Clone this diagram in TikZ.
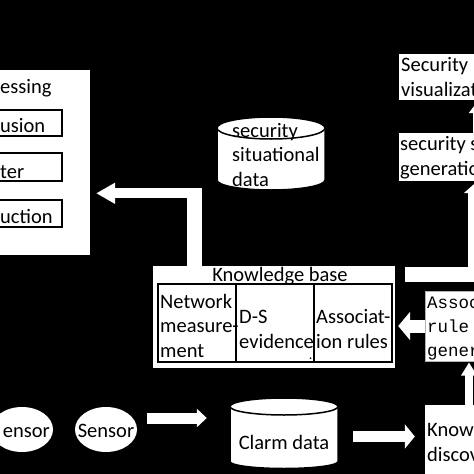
\documentclass[tikz,border=0pt]{standalone}
\usepackage{fontspec}
\setmainfont{Carlito}
\newfontfamily\simfont{Liberation Mono}
\usetikzlibrary{arrows.meta,shapes.geometric}
\tikzset{
  lbl/.style={inner sep=0pt, font=\fontsize{20.5}{24.5}\selectfont, align=left, text=black},
  monolbl/.style={inner sep=0pt, font=\simfont\fontsize{17.5}{24}\selectfont, align=left, text=black},
  wbox/.style={fill=white, draw=none, inner sep=0pt, rectangle},
  subbox/.style={fill=white, draw=black, line width=2pt, inner sep=0pt, rectangle},
  cell/.style={draw=black, line width=2pt, inner sep=0pt, rectangle},
  cyl/.style={fill=white, draw=black, line width=1.5pt},
  cylline/.style={draw=black, line width=1.5pt},
  sensor/.style={ellipse, fill=white, draw=none, minimum width=62pt, minimum height=45pt, inner sep=0pt},
  warrow/.style={draw=white, line cap=butt, line join=miter},
}
\begin{document}
\begin{tikzpicture}[x=1pt,y=-1pt]
\useasboundingbox (0,0) rectangle (474,474);
\fill[black] (0,0) rectangle (474,474);
\clip (0,0) rectangle (474,474);

% processing box
\node[wbox, minimum width=100pt, minimum height=185pt] (proc) at (40,162.5) {};
\node[lbl, anchor=base west] (proct) at (0,93) {essing};
\node[subbox, minimum width=67pt, minimum height=26pt] (fus) at (28.5,123) {};
\node[lbl, anchor=base west] (fust) at (0,132) {usion};
\node[subbox, minimum width=67pt, minimum height=28pt] (fil) at (28.5,167) {};
\node[lbl, anchor=base west] (filt) at (0,178) {ter};
\node[subbox, minimum width=67pt, minimum height=27pt] (red) at (28.5,213.5) {};
\node[lbl, anchor=base west] (redt) at (0,223) {uction};

% security situational data cylinder
\node[inner sep=0pt, minimum width=108pt, minimum height=73pt] (sdata) at (271,153.5) {};
\draw[cyl] (217,128) -- (217,180) .. controls (217,185.52) and (241.18,190) .. (271,190)
  .. controls (300.82,190) and (325,185.52) .. (325,180) -- (325,128)
  .. controls (325,121.92) and (300.82,117) .. (271,117)
  .. controls (241.18,117) and (217,121.92) .. cycle;
\node[lbl, anchor=base west] (sdatat) at (232,186) {security\\situational\\data};
\draw[cylline] (217,128) .. controls (217,134.08) and (241.18,139) .. (271,139)
  .. controls (300.82,139) and (325,134.08) .. (325,128);

% knowledge base
\node[wbox, minimum width=242pt, minimum height=102pt] (kb) at (274,317) {};
\node[lbl, anchor=base] (kbt) at (280,281) {Knowledge base};
\node[cell, minimum width=78pt, minimum height=78pt] (c1) at (197,323) {};
\node[cell, minimum width=78pt, minimum height=78pt] (c2) at (275,323) {};
\node[cell, minimum width=78pt, minimum height=78pt] (c3) at (353,323) {};
\node[lbl, anchor=base west] (c1t) at (160,357) {Network\\measure-\\ment};
\node[lbl, anchor=base west] (c2t) at (239,348) {D-S\\evidence};
\node[lbl, anchor=base west] (c3t) at (316,348) {Associat-\\ion rules};
\node[inner sep=0pt, font=\fontsize{14}{14}\selectfont, anchor=base] (dots) at (312.5,359) {..};

% right column
\node[wbox, minimum width=91pt, minimum height=46pt] (vis) at (444.5,77) {};
\node[lbl, anchor=base west] (vist) at (401,96) {Security\\visualizat};
\node[wbox, minimum width=91pt, minimum height=48pt] (gen) at (444.5,157) {};
\node[lbl, anchor=base west] (gent) at (400,175) {security s\\generatio};
\node[wbox, draw=gray!60, line width=1pt, minimum width=60pt, minimum height=70pt] (assoc) at (455,326) {};
\node[monolbl, anchor=base west] (assoct) at (427,356) {Assoc\\rule\\gener};
\node[wbox, minimum width=60pt, minimum height=75pt] (know) at (455,442.5) {};
\node[lbl, anchor=base west] (knowt) at (427,461) {Know\\discov};

% sensors
\node[sensor] (s1) at (22,429.5) {};
\node[lbl, anchor=base east] (s1t) at (50,437) {ensor};
\node[sensor] (s2) at (106,429.5) {};
\node[lbl, anchor=base] (s2t) at (106,437) {Sensor};

% clarm data cylinder
\node[inner sep=0pt, minimum width=108pt, minimum height=70.5pt] (clarm) at (284,433.25) {};
\draw[cyl] (230,406.5) -- (230,461.5) .. controls (230,465.37) and (254.18,468.5) .. (284,468.5)
  .. controls (313.82,468.5) and (338,465.37) .. (338,461.5) -- (338,406.5)
  .. controls (338,401.81) and (313.82,398) .. (284,398)
  .. controls (254.18,398) and (230,401.81) .. cycle;
\draw[cylline] (230,406.5) .. controls (230,411.19) and (254.18,415) .. (284,415)
  .. controls (313.82,415) and (338,411.19) .. (338,406.5);
\node[lbl, anchor=base] (clarmt) at (284,449) {Clarm data};

% arrows
\draw[warrow, line width=15pt] ([xshift=42pt]kb.north west) -- ([xshift=42pt, yshift=77pt]kb.north west);
\coordinate (bend) at ([xshift=42pt, yshift=72.5pt]kb.north west);
\draw[warrow, line width=10pt, -{Triangle[width=20pt,length=19pt]}, shorten >=6pt] ([xshift=7.5pt]bend) -- (bend -| proc.east);

\draw[warrow, line width=13pt, -{Triangle[width=28pt,length=12pt]}, shorten >=3pt] (assoc.west) -- (assoc.west -| kb.east);

\draw[warrow, line width=8pt, -{Triangle[width=15pt,length=13pt]}, shorten >=1pt] ([xshift=14pt]know.north) -- ([xshift=14pt]assoc.south);

\coordinate (cl) at ([yshift=-3.25pt]clarm.east);
\draw[warrow, line width=11pt, -{Triangle[width=24pt,length=10pt]}, shorten <=15pt, shorten >=10pt] (cl) -- (cl -| know.west);

\coordinate (se) at ([yshift=11.5pt]s2.east);
\draw[warrow, line width=11pt, -{Triangle[width=18pt,length=10pt]}, shorten <=10pt, shorten >=23pt] (se) -- (se -| clarm.west);

\draw[warrow, line width=15pt, -{Triangle[width=22pt,length=10pt]}, shorten <=10pt, shorten >=2pt] ([yshift=42.5pt]kb.east) -| ([xshift=30.5pt]gen.south);

\draw[warrow, line width=8pt, -{Triangle[width=16pt,length=11pt]}, shorten >=2pt] ([xshift=32.5pt]gen.north) -- ([xshift=32.5pt]vis.south);
\end{tikzpicture}
\end{document}
